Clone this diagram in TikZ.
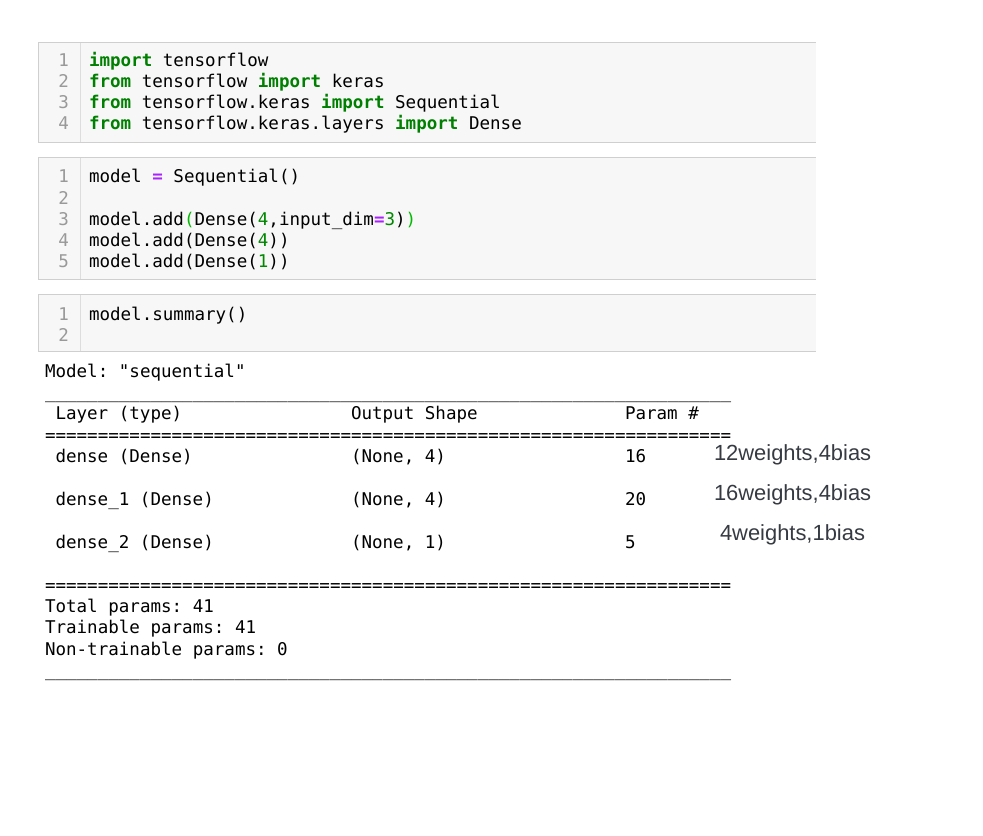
\documentclass[tikz,border=0pt]{standalone}
\usepackage{fontspec}
\setmonofont{DejaVu Sans Mono}
\newfontfamily\annfont{Liberation Sans}
\usepackage{xcolor}
\definecolor{kwc}{HTML}{008000}
\definecolor{numc}{HTML}{008800}
\definecolor{opc}{HTML}{AA22FF}
\definecolor{mbc}{HTML}{00BB00}
\definecolor{lnc}{HTML}{999999}
\definecolor{cellbg}{HTML}{F7F7F7}
\definecolor{cellbd}{HTML}{CFCFCF}
\definecolor{gutbd}{HTML}{DDDDDD}
\definecolor{annc}{HTML}{363A42}
\ExplSyntaxOn
\cs_new:Npn \myrep #1#2 { \prg_replicate:nn {#1} {#2} }
\ExplSyntaxOff
\newcommand\kwd[1]{{\bfseries\color{kwc}#1}}
\newcommand\nm[1]{{\color{numc}#1}}
\newcommand\opr[1]{{\bfseries\color{opc}#1}}
\newcommand\mbr[1]{{\color{mbc}#1}}
\frenchspacing
\begin{document}
\begin{tikzpicture}[x=1bp,y=-1bp,
  every node/.style={inner sep=0pt,outer sep=0pt},
  codeln/.style={anchor=base west,font=\ttfamily\fontsize{17.6}{21}\selectfont,text=black},
  lnum/.style={anchor=base east,font=\ttfamily\fontsize{17.6}{21}\selectfont,text=lnc},
  outln/.style={anchor=base west,font=\ttfamily\fontsize{17.6}{21}\selectfont,text=black},
  ann/.style={anchor=base west,font=\annfont\fontsize{22}{26}\selectfont,text=annc},
  cellfill/.style={fill=cellbg},
  cellline/.style={draw=cellbd,line width=1bp},
  gutline/.style={draw=gutbd,line width=1bp}]
\useasboundingbox (0,0) rectangle (983,836);
\fill[white] (0,0) rectangle (983,836);

% ---------- cell 1 ----------
\fill[cellfill] (38.5,42.5) rectangle (816,142.5);
\draw[cellline] (816,42.5) -- (38.5,42.5) -- (38.5,142.5) -- (816,142.5);
\draw[gutline] (80.5,43) -- (80.5,142);
\node[lnum] (a1n) at (69,66) {1};
\node[lnum] (a2n) at (69,87.3) {2};
\node[lnum] (a3n) at (69,108.6) {3};
\node[lnum] (a4n) at (69,129.9) {4};
\node[codeln] (a1) at (89,66) {\kwd{import} tensorflow};
\node[codeln] (a2) at (89,87.3) {\kwd{from} tensorflow \kwd{import} keras};
\node[codeln] (a3) at (89,108.6) {\kwd{from} tensorflow.keras \kwd{import} Sequential};
\node[codeln] (a4) at (89,129.9) {\kwd{from} tensorflow.keras.layers \kwd{import} Dense};

% ---------- cell 2 ----------
\fill[cellfill] (38.5,157.5) rectangle (816,279);
\draw[cellline] (816,157.5) -- (38.5,157.5) -- (38.5,279) -- (816,279);
\draw[gutline] (80.5,158) -- (80.5,278.5);
\node[lnum] (b1n) at (69,182.7) {1};
\node[lnum] (b2n) at (69,204) {2};
\node[lnum] (b3n) at (69,225.3) {3};
\node[lnum] (b4n) at (69,246.6) {4};
\node[lnum] (b5n) at (69,267.9) {5};
\node[codeln] (b1) at (89,182.7) {model \opr{=} Sequential()};
\node[codeln] (b3) at (89,225.3) {model.add\mbr{(}Dense(\nm{4},input\_dim\opr{=}\nm{3})\mbr{)}};
\node[codeln] (b4) at (89,246.6) {model.add(Dense(\nm{4}))};
\node[codeln] (b5) at (89,267.9) {model.add(Dense(\nm{1}))};

% ---------- cell 3 ----------
\fill[cellfill] (38.5,294.5) rectangle (816,351.5);
\draw[cellline] (816,294.5) -- (38.5,294.5) -- (38.5,351.5) -- (816,351.5);
\draw[gutline] (80.5,295) -- (80.5,351);
\node[lnum] (c1n) at (69,320) {1};
\node[lnum] (c2n) at (69,341.3) {2};
\node[codeln] (c1) at (89,320) {model.summary()};

% ---------- output ----------
\node[outln] (o0) at (45,377) {Model: "sequential"};
\node[outln] (o1) at (45,398.4) {\myrep{65}{\_}};
\node[outln] (h1) at (55.5,419.8) {Layer (type)};
\node[outln] (h2) at (351,419.8) {Output Shape};
\node[outln] (h3) at (625,419.8) {Param \#};
\node[outln] (o3) at (45,441.2) {\myrep{65}{=}};
\node[outln] (r1a) at (55.5,462.6) {dense (Dense)};
\node[outln] (r1b) at (351,462.6) {(None, 4)};
\node[outln] (r1c) at (625,462.6) {16};
\node[outln] (r2a) at (55.5,505.4) {dense\_1 (Dense)};
\node[outln] (r2b) at (351,505.4) {(None, 4)};
\node[outln] (r2c) at (625,505.4) {20};
\node[outln] (r3a) at (55.5,548.2) {dense\_2 (Dense)};
\node[outln] (r3b) at (351,548.2) {(None, 1)};
\node[outln] (r3c) at (625,548.2) {5};
\node[outln] (o10) at (45,591) {\myrep{65}{=}};
\node[outln] (o11) at (45,612.4) {Total params: 41};
\node[outln] (o12) at (45,633.8) {Trainable params: 41};
\node[outln] (o13) at (45,655.2) {Non-trainable params: 0};
\node[outln] (o14) at (45,676.6) {\myrep{65}{\_}};

% ---------- annotations ----------
\node[ann] (n1) at (714,460.5) {12weights,4bias};
\node[ann] (n2) at (714,500.5) {16weights,4bias};
\node[ann] (n3) at (720,540.5) {4weights,1bias};
\end{tikzpicture}
\end{document}
